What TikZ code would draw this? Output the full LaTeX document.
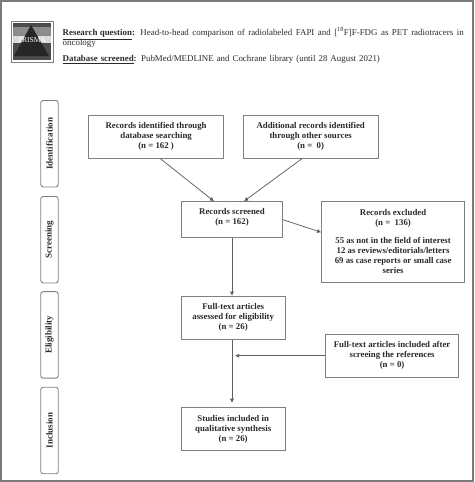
\documentclass[tikz,border=0pt]{standalone}
\usepackage{fontspec}
\setmainfont{Liberation Serif}
\usepackage{xcolor}
\usetikzlibrary{arrows.meta,calc,positioning,shapes.geometric}
\definecolor{framegray}{HTML}{7A7A7A}
\definecolor{linegray}{HTML}{808080}
\definecolor{textdark}{HTML}{2A2A2A}
\tikzset{
  flowline/.style={textdark!75, -{Latex[length=4.2pt,width=4.4pt]}, line width=0.75pt},
  boxnode/.style={draw=linegray, rectangle, line width=0.9pt, align=center, inner sep=0pt, text=textdark, font=\fontsize{8.8}{10}\selectfont\bfseries},
  phasenode/.style={draw=linegray, rounded corners=2.5pt, line width=0.9pt, minimum width=17.5pt, minimum height=86.5pt, inner sep=0pt},
  phaselabel/.style={rotate=90, text=textdark, font=\fontsize{9}{10}\selectfont\bfseries},
  headnode/.style={anchor=north west, inner sep=0pt, text=textdark, font=\fontsize{8.9}{10}\selectfont, execute at begin node={\lineskiplimit=-4pt\relax}}
}
\begin{document}
\begin{tikzpicture}[x=1pt,y=-1pt]
  \useasboundingbox (0,0) rectangle (474,482);
  \draw[framegray, line width=2.2pt] (1,1) rectangle (473,481);
  % logo
  \draw[linegray, fill=white, line width=0.9pt] (11,21) rectangle (53,62);
  \fill[black!70] (13,23) rectangle (51,60);
  \fill[black!45] (13,27) rectangle (51,36);
  \fill[white!85!black] (13,36) rectangle (51,43);
  \fill[black!85] (31,25) -- (49,56) -- (14,56) -- cycle;
  \node[text=white, font=\fontsize{7.5}{7.5}\selectfont] at (32,39.7) {PRISMA};
  % header
  \node[headnode, text width=401pt, align=justify] (question) at (62.5,27.5) {\underline{\textbf{Research question}}\textbf{:} Head-to-head comparison of radiolabeled FAPI and [\textsuperscript{18}F]F-FDG as PET radiotracers in\linebreak oncology};
  \node[headnode, text width=401pt, align=left] (database) at (62.5,55.3) {\underline{\textbf{Database screened}}\textbf{:} PubMed/MEDLINE and Cochrane library (until 28 August 2021)};
  % phases
  \node[phasenode] (identification) at (49.5,143.7) {};
  \node[phasenode] (screening) at (49.5,239.7) {};
  \node[phasenode] (eligibility) at (49.5,334.9) {};
  \node[phasenode] (inclusion) at (49.5,430.5) {};
  \node[phaselabel] at (identification) {Identification};
  \node[phaselabel] at (screening) {Screening};
  \node[phaselabel] at (eligibility) {Eligibility};
  \node[phaselabel] at (inclusion) {Inclusion};
  % boxes
  \node[boxnode, minimum width=134.8pt, minimum height=43pt] (identified) at (156.1,136.5) {Records identified through\\database searching\\(n = 162 )};
  \node[boxnode, minimum width=134.5pt, minimum height=43pt] (additional) at (310.7,136.5) {Additional records identified\\through other sources\\(n =\ \ 0)};
  \node[boxnode, minimum width=101pt, minimum height=36pt] (screened) at (232,219.7) {Records screened\\(n = 162)\rule[-7.4pt]{0pt}{7.4pt}};
  \node[boxnode, minimum width=142.8pt, minimum height=80.3pt] (excluded) at (393.1,241.8) {Records excluded\\(n =\ \ 136)\\[8pt]55 as not in the field of interest\\12 as reviews/editorials/letters\\69 as case reports or small case\\series};
  \node[boxnode, minimum width=103.5pt, minimum height=43pt] (fulltext) at (233.2,317.8) {Full-text articles\\assessed for eligibility\\(n = 26)};
  \node[boxnode, minimum width=132.8pt, minimum height=43.3pt] (afterrefs) at (392.1,355.7) {Full-text articles included after\\screeing the references\\(n = 0)};
  \node[boxnode, minimum width=103.5pt, minimum height=43.3pt] (studies) at (233.2,429) {Studies included in\\qualitative synthesis\\(n = 26)};
  % connectors
  \coordinate (joint) at (235,355.7);
  \draw[flowline] ([xshift=4pt]identified.south) -- ([xshift=-18pt]screened.north);
  \draw[flowline] ([xshift=-8.5pt]additional.south) -- ([xshift=12pt]screened.north);
  \draw[flowline] (screened.east) -- ([yshift=9.5pt]excluded.west);
  \draw[flowline] (screened.south) -- (screened.south |- fulltext.north);
  \draw[flowline] (fulltext.south -| screened.south) -- ([yshift=4pt]screened.south |- studies.north);
  \draw[flowline] (afterrefs.west) -- (joint);
\end{tikzpicture}
\end{document}
